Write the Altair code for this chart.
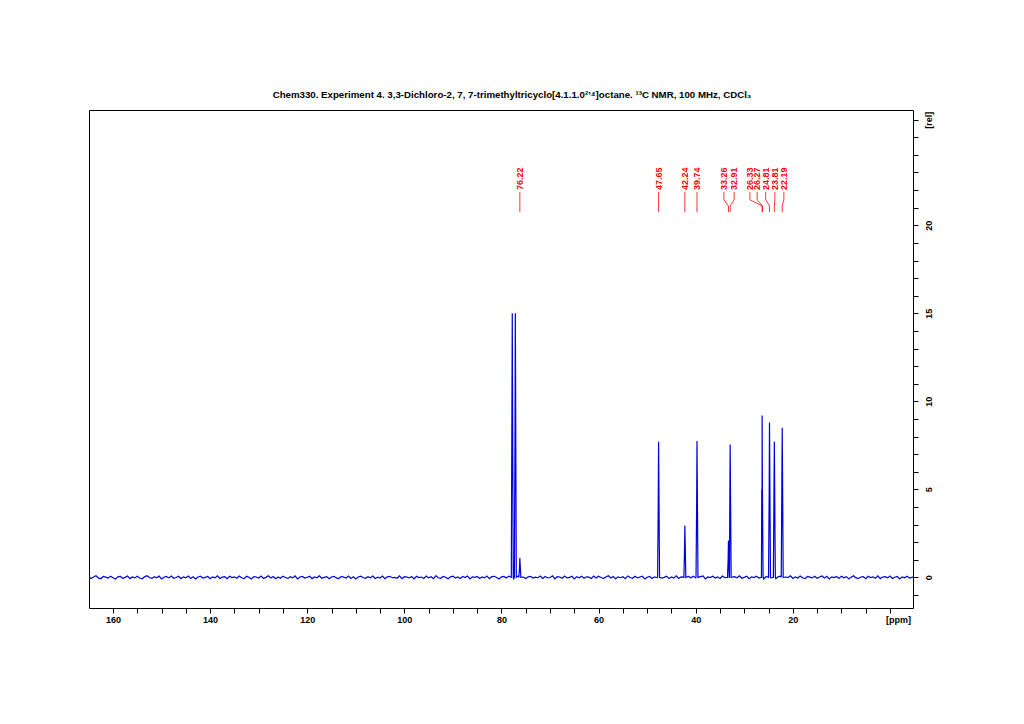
import altair as alt
import pandas as pd

title_text = ("Chem330. Experiment 4. 3,3-Dichloro-2, 7, 7-trimethyltricyclo[4.1.1.0²ʼ⁴]octane. "
              "¹³C NMR, 100 MHz, CDCl₃")

# baseline readings (hundredths of [rel]) every 0.5 ppm from 165 ppm down to -5 ppm
base_start = 165.0
base_step = 0.5
base_noise = [
    4, -6, 2, 9, -3, -8, 5, 1, -4, 7, -2, -9, 3, 6, -5, 0, 8, -7, 2, -3,
    6, -4, -8, 3, 9, -1, -6, 4, -2, 7, -9, 1, 5, -3, 8, -5, -1, 6, -7, 3,
    -2, 8, -6, 4, -9, 2, 7, -4, 0, 5, -8, 3, -3, 9, -6, 1, 4, -7, 6, -1,
    3, -5, 8, -2, -7, 6, 1, -9, 4, 2, -4, 7, -6, 0, 9, -3, 5, -8, 2, -5,
    7, -1, -6, 4, -3, 8, -9, 2, 5, -4, 1, 6, -7, 3, -2, 9, -5, 0, 4, -8,
    2, 6, -3, -7, 5, 1, -4, 8, -6, 3, -9, 2, 7, -1, -5, 4, -2, 8, -6, 1,
    -4, 7, -8, 3, 6, -2, 0, -5, 9, -7, 4, 1, -3, 5, -9, 6, -1, 2, -6, 8,
    -3, 4, -7, 9, -2, -5, 6, 1, -8, 3, 7, -4, 2, -6, 5, -1, 8, -9, 3, 0,
    5, -6, 2, -3, 8, -7, 4, 6, -1, -9, 3, 5, -4, 7, -2, -8, 1, 9, -5, 2,
    -7, 3, 6, -4, 1, -2, 8, -6, 5, -3, -1, 9, -8, 4, 2, -5, 7, -3, 0, 6,
    -9, 4, -2, 7, -5, 3, 1, -6, 8, -4, 6, -1, -7, 2, 9, -3, 5, -8, 3, -2,
    4, -7, 8, -1, -5, 6, -3, 2, 7, -9, 1, 5, -6, 3, -2, 8, -4, 0, 6, -7,
    2, -4, 9, -6, 3, 1, -8, 5, -2, 7, -3, -5, 4, 8, -9, 2, -1, 6, -4, 3,
    -6, 8, -2, 5, -7, 1, 4, -3, 9, -5, 0, 6, -8, 3, -1, 7, -4, 2, -9, 5,
    1, -3, 6, -8, 4, 7, -5, 2, -1, 9, -6, 3, -4, 8, -2, -7, 5, 1, -3, 6,
    -5, 2, 8, -4, 6, -9, 3, -1, 5, -6, 7, -2, 4, -8, 1, 9, -3, -6, 2, 4,
    -8, 6, -1, 3, -5, 9, -7, 2, 4, -3, 8, -6, 1, 5, -9, 3, -2, 7, -4, 0,
    3,
]

# spectrum peaks: position (ppm), apex height and lower (shoulder) height in [rel]
peak_ppm = [77.78, 77.15, 76.22, 47.65, 42.24, 39.74, 33.26, 32.91, 26.33, 26.27, 24.81, 23.81, 22.19]
peak_top = [15.0, 15.0, 1.1, 7.7, 2.95, 7.75, 2.1, 7.55, 9.2, 5.0, 8.8, 7.7, 8.5]
peak_shoulder = [9.6, 7.6, 0.5, 4.2, 1.5, 4.2, 1.0, 4.3, 5.0, 2.5, 4.65, 5.35, 5.55]

# peak-pick annotations
label_text = ["76.22", "47.65", "42.24", "39.74", "33.26", "32.91", "26.33", "26.27", "24.81", "23.81", "22.19"]
label_peak = [76.22, 47.65, 42.24, 39.74, 33.26, 32.91, 26.33, 26.27, 24.81, 23.81, 22.19]
label_pos = [76.22, 47.65, 42.24, 39.74, 34.2, 32.1, 28.85, 27.35, 25.6, 23.7, 21.85]

# ---- build tables ----
rows = []
for i, v in enumerate(base_noise):
    p = base_start - i * base_step
    if all(abs(p - q) > 0.25 for q in peak_ppm):
        rows.append({"ppm": p, "int": v / 100.0})
for p, t, s in zip(peak_ppm, peak_top, peak_shoulder):
    rows.append({"ppm": p + 0.2, "int": 0.0})
    rows.append({"ppm": p + 0.07, "int": s})
    rows.append({"ppm": p, "int": t})
    rows.append({"ppm": p - 0.2, "int": 0.0})
spec = pd.DataFrame(rows).sort_values("ppm", ascending=False)

Y_TEXT, Y_TOP, Y_B1, Y_B2, Y_BOT = 22.0, 21.9, 21.45, 21.1, 20.75
lab = pd.DataFrame({"label": label_text, "peak": label_peak, "lx": label_pos})
lab["ty"] = Y_TEXT
lab["y_top"] = Y_TOP
lab["y_b1"] = Y_B1
lab["y_b2"] = Y_B2
lab["y_bot"] = Y_BOT

FONT = "Liberation Sans"
xscale = alt.Scale(domain=[-4.74, 164.94], reverse=True, nice=False, zero=False)
yscale = alt.Scale(domain=[-1.74, 26.55], nice=False, zero=False)

x_axis = alt.Axis(
    values=list(range(0, 165, 5)),
    labelExpr="datum.value === 0 ? '[ppm]' : (datum.value % 20 === 0 ? datum.label : '')",
    title=None, grid=False, domain=False, ticks=True, tickSize=5, tickColor="black",
    labelFont=FONT, labelFontSize=9, labelFontWeight="bold", labelColor="black",
    labelPadding=2, labelFlush=False, labelOverlap=False,
    labelOffset={"condition": {"test": "datum.value === 0", "value": 8}, "value": 0},
)
y_axis = alt.Axis(
    orient="right",
    values=list(range(-1, 27)),
    labelExpr="datum.value === 26 ? '[rel]' : ((datum.value % 5 === 0 && datum.value <= 20) ? datum.label : '')",
    title=None, grid=False, domain=False, ticks=True, tickSize=5, tickColor="black",
    labelFont=FONT, labelFontSize=9, labelFontWeight="bold", labelColor="black",
    labelAngle=270, labelAlign="center", labelBaseline="middle", labelPadding=10,
    labelFlush=False, labelOverlap=False,
)

spectrum = alt.Chart(spec).mark_line(color="#0000e0", strokeWidth=1.2, clip=True).encode(
    x=alt.X("ppm:Q", scale=xscale, axis=x_axis),
    y=alt.Y("int:Q", scale=yscale, axis=y_axis),
)

base = alt.Chart(lab)
RED = "#ff0000"
lead_top = base.mark_rule(color=RED, strokeWidth=0.8).encode(
    x=alt.X("lx:Q", scale=xscale, axis=x_axis),
    y=alt.Y("y_top:Q", scale=yscale, axis=y_axis), y2="y_b1:Q",
)
lead_mid = base.mark_rule(color=RED, strokeWidth=0.8).encode(
    x=alt.X("lx:Q", scale=xscale, axis=x_axis), x2="peak:Q",
    y=alt.Y("y_b1:Q", scale=yscale, axis=y_axis), y2="y_b2:Q",
)
lead_bot = base.mark_rule(color=RED, strokeWidth=0.8).encode(
    x=alt.X("peak:Q", scale=xscale, axis=x_axis),
    y=alt.Y("y_b2:Q", scale=yscale, axis=y_axis), y2="y_bot:Q",
)
labels = base.mark_text(
    color=RED, font=FONT, fontSize=9, fontWeight="bold", angle=270,
    align="left", baseline="middle",
).encode(
    x=alt.X("lx:Q", scale=xscale, axis=x_axis),
    y=alt.Y("ty:Q", scale=yscale, axis=y_axis),
    text="label:N",
)

chart = alt.layer(spectrum, lead_top, lead_mid, lead_bot, labels).properties(
    width=824, height=498,
    title=alt.TitleParams(text=title_text, font=FONT, fontSize=9.7, fontWeight="bold",
                          color="black", anchor="middle", dx=11, offset=10),
    autosize=alt.AutoSizeParams(type="none"),
    padding={"left": 81, "top": 102, "right": 103, "bottom": 100},
).configure(
    background="white",
    view=alt.ViewConfig(stroke="black", strokeWidth=1),
)

chart.save("out.html", embed_options={"renderer": "svg", "actions": False})
